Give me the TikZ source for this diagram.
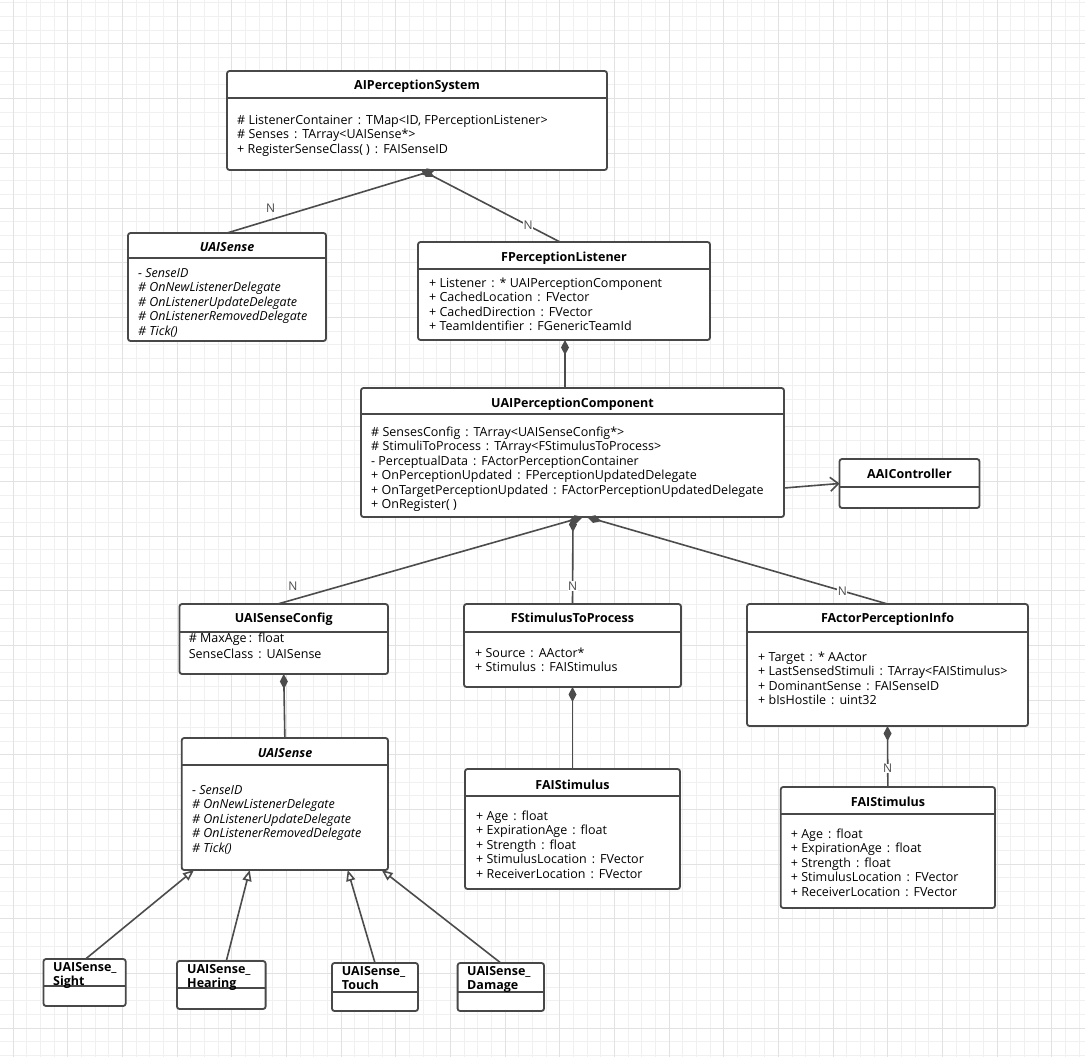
\documentclass[tikz,border=0pt]{standalone}
\usepackage{fontspec}
\setmainfont{Open Sans}
\usetikzlibrary{arrows.meta,calc}
\definecolor{gridminor}{HTML}{F0F0F0}
\definecolor{gridmajor}{HTML}{E2E2E2}
\definecolor{boxline}{HTML}{484848}
\definecolor{connline}{HTML}{4C4C4C}
\newcommand\cc{\hspace{5pt}:\hspace{5pt}}
\begin{document}
\begin{tikzpicture}[x=1pt,y=-1pt,
  umlbox/.style={draw=boxline, line width=1.8pt, rounded corners=2.5pt, fill=white,
    inner sep=0pt, outer sep=0pt, anchor=north west},
  divider/.style={draw=boxline, line width=1.8pt},
  titletext/.style={font=\fontsize{12.5}{14}\selectfont\bfseries, anchor=base, inner sep=0pt},
  attrtext/.style={font=\fontsize{12.5}{14.4}\selectfont, align=left, anchor=north west, inner sep=0pt},
  subtext/.style={font=\fontsize{12.5}{14}\selectfont\bfseries, align=left, anchor=north west, inner sep=0pt},
  conn/.style={draw=connline, line width=1.6pt},
  comp/.style={conn, {Diamond[length=15pt,width=8pt]}-},
  gen/.style={conn, -{Triangle[length=11pt,width=9pt,fill=white]}},
  assoc/.style={conn, -{Straight Barb[length=8pt,width=14pt]}},
  mult/.style={font=\fontsize{12}{14}\selectfont, inner sep=0.5pt, text=connline},
  multbg/.style={mult, fill=white}
]
\useasboundingbox (0,0) rectangle (1085,1057);
\fill[white] (0,0) rectangle (1085,1057);
% background grid
\foreach \k in {0,...,80} {\draw[gridminor, line width=1pt] ({-0.67+13.67*\k},0) -- ({-0.67+13.67*\k},1057);}
\foreach \k in {0,...,78} {\draw[gridminor, line width=1pt] (0,{2.97+13.67*\k}) -- (1085,{2.97+13.67*\k});}
\foreach \k in {0,...,19} {\draw[gridmajor, line width=1pt] ({13+54.68*\k},0) -- ({13+54.68*\k},1057);}
\foreach \k in {0,...,18} {\draw[gridmajor, line width=1pt] (0,{44+54.68*\k}) -- (1085,{44+54.68*\k});}

% ---------- boxes ----------
% AIPerceptionSystem
\node[umlbox, minimum width=380pt, minimum height=99pt] (aps) at (227,71) {};
\draw[divider] (227,98) -- (607,98);
\node[titletext] (aps-t) at (417,89.5) {AIPerceptionSystem};
\node[attrtext] (aps-a) at (237,114.2) {\strut\# ListenerContainer\cc TMap<ID, FPerceptionListener>\\
\strut\# Senses\cc TArray<UAISense*>\\
\strut+ RegisterSenseClass( )\cc FAISenseID};

% UAISense (top)
\node[umlbox, minimum width=198pt, minimum height=108pt] (sense1) at (128,233) {};
\draw[divider] (128,258) -- (326,258);
\node[titletext, font=\fontsize{12.5}{14}\selectfont\bfseries\itshape] (sense1-t) at (227,251.2) {UAISense};
\node[attrtext, font=\fontsize{12.5}{14.4}\selectfont\itshape] (sense1-a) at (138,267.2) {\strut- SenseID\\
\strut\# OnNewListenerDelegate\\
\strut\# OnListenerUpdateDelegate\\
\strut\# OnListenerRemovedDelegate\\
\strut\# Tick()};

% FPerceptionListener
\node[umlbox, minimum width=292pt, minimum height=98pt] (fpl) at (418,242) {};
\draw[divider] (418,269) -- (710,269);
\node[titletext] (fpl-t) at (564,261.5) {FPerceptionListener};
\node[attrtext] (fpl-a) at (429,277.2) {\strut+ Listener\cc * UAIPerceptionComponent\\
\strut+ CachedLocation\cc FVector\\
\strut+ CachedDirection\cc FVector\\
\strut+ TeamIdentifier\cc FGenericTeamId};

% UAIPerceptionComponent
\node[umlbox, minimum width=423pt, minimum height=129pt] (upc) at (361,388) {};
\draw[divider] (361,414) -- (784,414);
\node[titletext] (upc-t) at (572.5,407.5) {UAIPerceptionComponent};
\node[attrtext] (upc-a) at (371,426.2) {\strut\# SensesConfig\cc TArray<UAISenseConfig*>\\
\strut\# StimuliToProcess\cc TArray<FStimulusToProcess>\\
\strut- PerceptualData\cc FActorPerceptionContainer\\
\strut+ OnPerceptionUpdated\cc FPerceptionUpdatedDelegate\\
\strut+ OnTargetPerceptionUpdated\cc FActorPerceptionUpdatedDelegate\\
\strut+ OnRegister( )};

% AAIController
\node[umlbox, minimum width=140pt, minimum height=49pt] (aai) at (839.5,459) {};
\draw[divider] (839.5,487) -- (979.5,487);
\node[titletext] (aai-t) at (909.5,478.5) {AAIController};

% UAISenseConfig
\node[umlbox, minimum width=208.5pt, minimum height=70pt] (usc) at (179.5,604) {};
\draw[divider] (179.5,632) -- (388,632);
\node[titletext] (usc-t) at (283.7,622.5) {UAISenseConfig};
\node[attrtext] (usc-a) at (188.6,632.2) {\strut\# MaxAge\,:\hspace{6pt}float\\[1.5pt]
\strut SenseClass\cc UAISense};

% FStimulusToProcess
\node[umlbox, minimum width=217pt, minimum height=83pt] (fstp) at (464,604) {};
\draw[divider] (464,632) -- (681,632);
\node[titletext] (fstp-t) at (572.5,622.5) {FStimulusToProcess};
\node[attrtext] (fstp-a) at (475,647.2) {\strut+ Source\cc AActor*\\
\strut+ Stimulus\cc FAIStimulus};

% FActorPerceptionInfo
\node[umlbox, minimum width=281pt, minimum height=122pt] (fapi) at (747,604) {};
\draw[divider] (747,632) -- (1028,632);
\node[titletext] (fapi-t) at (887.5,622.5) {FActorPerceptionInfo};
\node[attrtext] (fapi-a) at (758,651.2) {\strut+ Target\cc * AActor\\
\strut+ LastSensedStimuli\cc TArray<FAIStimulus>\\
\strut+ DominantSense\cc FAISenseID\\
\strut+ bIsHostile\cc uint32};

% UAISense (lower)
\node[umlbox, minimum width=206.3pt, minimum height=132pt] (sense2) at (181.7,738) {};
\draw[divider] (181.7,765) -- (388,765);
\node[titletext, font=\fontsize{12.5}{14}\selectfont\bfseries\itshape] (sense2-t) at (285,757.5) {UAISense};
\node[attrtext, font=\fontsize{12.5}{14.4}\selectfont\itshape] (sense2-a) at (192,784.2) {\strut- SenseID\\
\strut\# OnNewListenerDelegate\\
\strut\# OnListenerUpdateDelegate\\
\strut\# OnListenerRemovedDelegate\\
\strut\# Tick()};

% FAIStimulus (middle)
\node[umlbox, minimum width=215pt, minimum height=120pt] (stim1) at (465,769) {};
\draw[divider] (465,796) -- (680,796);
\node[titletext] (stim1-t) at (572.5,789.5) {FAIStimulus};
\node[attrtext] (stim1-a) at (476,810.2) {\strut+ Age\cc float\\
\strut+ ExpirationAge\cc float\\
\strut+ Strength\cc float\\
\strut+ StimulusLocation\cc FVector\\
\strut+ ReceiverLocation\cc FVector};

% FAIStimulus (right)
\node[umlbox, minimum width=214.3pt, minimum height=121pt] (stim2) at (780.7,787) {};
\draw[divider] (780.7,814) -- (995,814);
\node[titletext] (stim2-t) at (888,806.5) {FAIStimulus};
\node[attrtext] (stim2-a) at (790.7,828.2) {\strut+ Age\cc float\\
\strut+ ExpirationAge\cc float\\
\strut+ Strength\cc float\\
\strut+ StimulusLocation\cc FVector\\
\strut+ ReceiverLocation\cc FVector};

% sense subclasses
\node[umlbox, minimum width=82.2pt, minimum height=47pt] (sight) at (43.5,959) {};
\draw[divider] (43.5,986) -- (125.7,986);
\node[subtext] (sight-t) at (53,961.2) {\strut UAISense\_\\\strut Sight};

\node[umlbox, minimum width=88.6pt, minimum height=48pt] (hearing) at (177,961) {};
\draw[divider] (177,988) -- (265.6,988);
\node[subtext] (hearing-t) at (187,963.2) {\strut UAISense\_\\\strut Hearing};

\node[umlbox, minimum width=86pt, minimum height=48pt] (touch) at (332,963) {};
\draw[divider] (332,992) -- (418,992);
\node[subtext] (touch-t) at (341.7,965.2) {\strut UAISense\_\\\strut Touch};

\node[umlbox, minimum width=86.4pt, minimum height=48pt] (damage) at (457.6,963) {};
\draw[divider] (457.6,992) -- (544,992);
\node[subtext] (damage-t) at (467,965.2) {\strut UAISense\_\\\strut Damage};

% ---------- connectors ----------
\draw[comp] ($(aps.south west)+(208,0)$) -- node[mult, pos=0.79, yshift=12pt] (n1) {N} (sense1.north);
\draw[comp] ($(aps.south west)+(194,0)$) -- node[multbg, pos=0.77] (n2) {N} ($(fpl.north)+(-4,0)$);
\draw[comp] ($(fpl.south)+(1,0)$) -- ($(upc.north)+(-7.5,0)$);
\draw[assoc] ($(upc.north east)+(0,100)$) -- (aai.west);
\draw[comp] ($(upc.south west)+(222,0)$) -- node[mult, pos=0.95, yshift=13pt] (n3) {N} ($(usc.north)+(-6,0)$);
\draw[comp] ($(upc.south west)+(212,0)$) -- node[multbg, pos=0.79] (n4) {N} (fstp.north);
\draw[comp] ($(upc.south west)+(226,0)$) -- node[multbg, pos=0.85] (n5) {N} (fapi.north);
\draw[comp] (usc.south) -- (sense2.north);
\draw[comp] (fstp.south) -- (stim1.north);
\draw[comp] (fapi.south) -- node[multbg, pos=0.7] (n6) {N} (stim2.north);
\draw[gen] ($(sight.north)+(1,0)$) -- ($(sense2.south west)+(12.3,0)$);
\draw[gen] ($(hearing.north)+(5,0)$) -- ($(sense2.south west)+(68,0)$);
\draw[gen] (touch.north) -- ($(sense2.south west)+(166,0)$);
\draw[gen] (damage.north) -- ($(sense2.south west)+(200,0)$);
\end{tikzpicture}
\end{document}
